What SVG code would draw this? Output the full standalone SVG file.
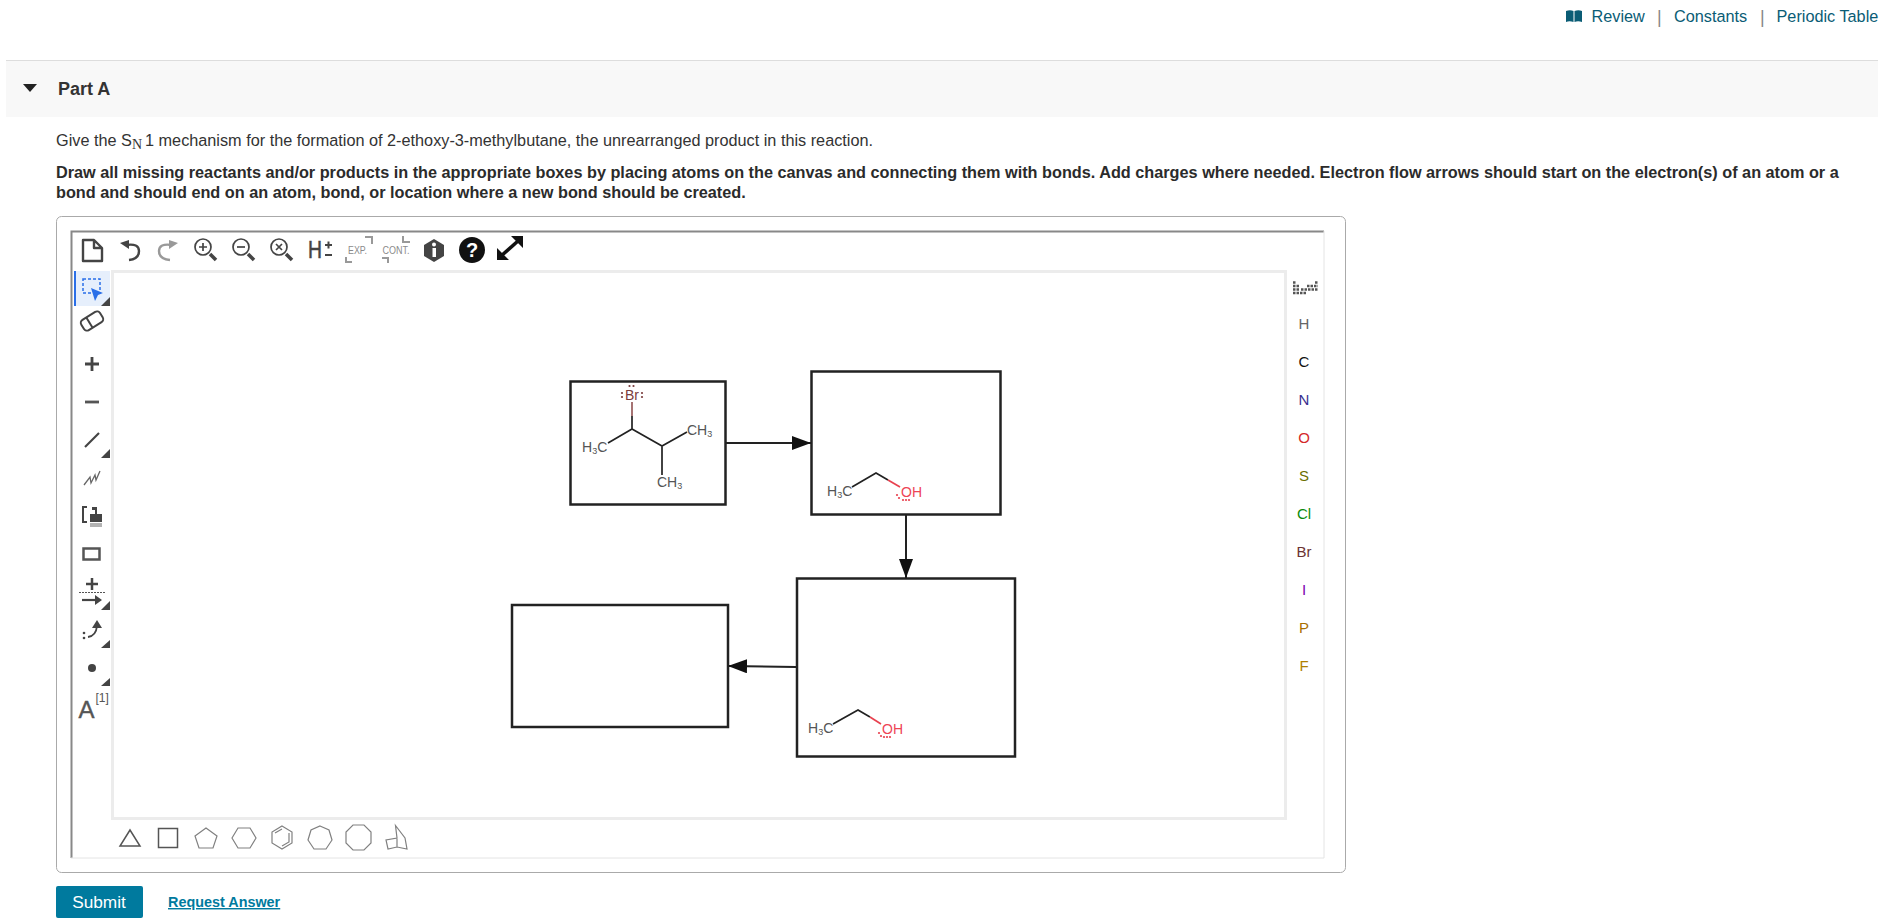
<svg xmlns="http://www.w3.org/2000/svg" width="1883" height="918" viewBox="0 0 1883 918">
<style>
text{font-family:"Liberation Sans",Arial,sans-serif}
.link{font-size:16.25px;fill:#0a5c75}
.sep{font-size:18px;fill:#888}
.body{font-size:16.25px;fill:#333}
.bold{font-size:16.25px;font-weight:700;fill:#2b2b2b}
.box{fill:#fff;stroke:#222;stroke-width:2.5}
.conn{fill:none;stroke:#222;stroke-width:2}
.bond{fill:none;stroke:#222;stroke-width:1.7}
.red{fill:none;stroke:#e8414f;stroke-width:1.7}
.atom{font-size:14px;fill:#555}
.atom tspan{font-size:9px}
.oh{font-size:14px;fill:#ee4455}
.ic{fill:none;stroke:#444;stroke-width:2}
.ic-thin{fill:none;stroke:#444;stroke-width:1.7}
.corner{fill:#444}
.ring{fill:none;stroke:#808080;stroke-width:1.2}
.el{font-size:15px;text-anchor:middle}
.tiny{font-size:10px;fill:#8a8a8a}
.brk{fill:none;stroke:#999;stroke-width:2}
</style>
<defs>
<marker id="ah" markerUnits="userSpaceOnUse" markerWidth="20" markerHeight="14" refX="19" refY="7" orient="auto"><path d="M0 0L19 7L0 14Z" fill="#111"/></marker>
</defs>
<rect width="1883" height="918" fill="#fff"/>

<g id="header-links">
<path d="M1566 11q4-1.500 7.500 0v11q-4-1.500-7.500 0ZM1574.500 11q4-1.500 7.500 0v11q-4-1.500-7.500 0Z" fill="#0a5c75"/>
<text class="link" x="1591.500" y="22">Review</text>
<text class="sep" x="1657" y="23">|</text>
<text class="link" x="1674" y="22">Constants</text>
<text class="sep" x="1760" y="23">|</text>
<text class="link" x="1776.500" y="22">Periodic Table</text>
</g>

<g id="part-header">
<rect x="6" y="61" width="1872" height="56" fill="#f8f8f8"/>
<path d="M6 60.500H1878" stroke="#ddd" stroke-width="1"/>
<path d="M23 84H37L30 92Z" fill="#222"/>
<text x="58" y="95" font-size="18" font-weight="700" fill="#333">Part A</text>
</g>

<g id="question">
<text class="body" x="56" y="146">Give the S<tspan font-family="Liberation Serif" font-size="14" dy="3">N</tspan><tspan dy="-3" dx="3">1 mechanism for the formation of 2-ethoxy-3-methylbutane, the unrearranged product in this reaction.</tspan></text>
<text class="bold" x="56" y="178">Draw all missing reactants and/or products in the appropriate boxes by placing atoms on the canvas and connecting them with bonds. Add charges where needed. Electron flow arrows should start on the electron(s) of an atom or a</text>
<text class="bold" x="56" y="198">bond and should end on an atom, bond, or location where a new bond should be created.</text>
</g>

<g id="editor-frame">
<rect x="56.500" y="216.500" width="1289" height="656" rx="5" fill="#fff" stroke="#aaa" stroke-width="1"/>
<path d="M71.500 858V231.500H1324" fill="none" stroke="#888" stroke-width="2"/>
<path d="M1324 231V858H71" fill="none" stroke="#e4e4e4" stroke-width="1"/>
<rect x="112.500" y="271.500" width="1173" height="547" fill="#fff" stroke="#ececec" stroke-width="3"/>
</g>

<g id="top-toolbar">
<path d="M83 240H94L102 248V261H83ZM94 240V248H102" fill="none" stroke="#444" stroke-width="2.400" stroke-linejoin="round"/>
<path d="M126 245Q139 243 139 251Q139 259 129 260" fill="none" stroke="#444" stroke-width="2.400"/><path d="M120 243L129 240V249Z" fill="#444"/>
<path d="M172 245Q159 243 159 251Q159 259 170 260" fill="none" stroke="#999" stroke-width="2.400"/><path d="M178 243L169 240V249Z" fill="#999"/>
<g id="zoom-in"><circle class="ic-thin" cx="203" cy="247" r="8"/><path class="ic-thin" d="M199 247H207M203 243V251"/><path d="M210 254L216 260" stroke="#444" stroke-width="3.500"/></g>
<g id="zoom-out"><circle class="ic-thin" cx="241" cy="247" r="8"/><path class="ic-thin" d="M237 247H245"/><path d="M248 254L254 260" stroke="#444" stroke-width="3.500"/></g>
<g id="zoom-reset"><circle class="ic-thin" cx="279" cy="247" r="8"/><path class="ic-thin" d="M276 244L282 250M282 244L276 250"/><path d="M286 254L292 260" stroke="#444" stroke-width="3.500"/></g>
<g id="h-toggle"><text x="308" y="258" font-size="23" fill="#444" stroke="#444" stroke-width=".5" textLength="14" lengthAdjust="spacingAndGlyphs">H</text><path d="M325 245H332M328.500 241.500V248.500M325 255H332" fill="none" stroke="#444" stroke-width="2"/></g>
<g id="exp"><text class="tiny" x="348" y="254" textLength="19" lengthAdjust="spacingAndGlyphs">EXP.</text><path class="brk" d="M365 237H372V244M346 257V262H352"/></g>
<g id="cont"><text class="tiny" x="382.500" y="254" textLength="27" lengthAdjust="spacingAndGlyphs">CONT.</text><path class="brk" d="M403 236V242H410M382 258H388V263"/></g>
<g id="info"><path d="M434 239L444 245V256L434 262L424 256V245Z" fill="#444"/><rect x="432.500" y="248" width="3.500" height="9" fill="#fff"/><circle cx="434" cy="244.500" r="2" fill="#fff"/></g>
<g id="help"><circle cx="472" cy="250" r="13" fill="#111"/><text x="472" y="257" font-size="20" font-weight="700" fill="#fff" text-anchor="middle">?</text></g>
<g id="expand"><path d="M501 256L518 241" stroke="#111" stroke-width="3.500"/><path d="M497 260V248L509 260ZM523 236V248L511 236Z" fill="#111"/></g>
</g>

<g id="left-toolbar">
<g id="select"><rect x="74" y="271" width="36" height="35" fill="#e6effc"/><rect x="74" y="271" width="2" height="35" fill="#2a6fe8"/><rect x="83" y="279" width="17" height="14" fill="none" stroke="#2a6fe8" stroke-width="1.500" stroke-dasharray="3 2"/><path d="M91 288L103 293L98 295L95 301Z" fill="#2a6fe8"/><path class="corner" d="M110 297V306H101Z"/></g>
<g id="eraser" transform="rotate(-32 92 321)"><rect class="ic" x="81" y="315" width="22" height="12" rx="3.500"/><path class="ic" d="M89 315V327"/></g>
<path id="plus" d="M85 364H99M92 357V371" stroke="#444" stroke-width="2.800"/>
<path id="minus" d="M85 402H99" stroke="#555" stroke-width="2.800"/>
<g id="bond"><path d="M85 447L99 433" stroke="#444" stroke-width="2.200"/><path class="corner" d="M110 449V458H101Z"/></g>
<path id="chain" d="M84 485L90 477L91 483L95 475L96 480L100 471" fill="none" stroke="#666" stroke-width="1.300"/>
<g id="bracket"><path class="ic" d="M87 507H83V522H87"/><path d="M92 507H97V514H102V522H90V514H95V510H92Z" fill="#444"/><path d="M90 524H102M90 526H102" stroke="#666" stroke-width="1"/></g>
<rect id="rect-tool" x="83.500" y="548.500" width="16" height="11" fill="none" stroke="#555" stroke-width="2.500"/>
<g id="reaction"><path d="M86 584H98M92 578V590" stroke="#444" stroke-width="2.500"/><path d="M79 592.500H105" stroke="#555" stroke-width="1" stroke-dasharray="2 1"/><path d="M82 600H96" stroke="#444" stroke-width="2.200"/><path d="M95 595L102 600L95 605Z" fill="#444"/><path class="corner" d="M110 601V610H101Z"/></g>
<g id="curved"><circle cx="84" cy="633" r="1.300" fill="#444"/><circle cx="84" cy="638" r="1.300" fill="#444"/><path d="M88 637Q96 636 97 626" fill="none" stroke="#444" stroke-width="1.800"/><path d="M97 620L102 628H92Z" fill="#444"/><path class="corner" d="M110 640V648H101Z"/></g>
<g id="dot-tool"><circle cx="92" cy="668" r="4" fill="#444"/><path class="corner" d="M110 678V686H101Z"/></g>
<g id="label-tool"><text x="78.500" y="718" font-size="24" fill="#555" stroke="#555" stroke-width=".4">A</text><text x="95.500" y="702" font-size="12" fill="#555">[1]</text></g>
</g>

<g id="bottom-toolbar">
<path d="M130 830L120 846H140Z" fill="none" stroke="#555" stroke-width="1.500"/>
<rect x="158.500" y="828.500" width="19" height="19" fill="none" stroke="#555" stroke-width="1.500"/>
<path class="ring" d="M206 828L217 836L213 848H199L195 836Z"/>
<path class="ring" d="M232 838L238 828H250L256 838L250 848H238Z"/>
<path class="ring" d="M282 826L292 832V843L282 849L272 843V832ZM289 833V842L282 846M275 833L282 829" stroke-width="1.500"/>
<path class="ring" d="M320 826L329 830L332 840L326 849H314L308 840L311 830Z"/>
<path class="ring" d="M353 825H364L371 832V843L364 850H353L346 843V832Z"/>
<path class="ring" d="M395.500 825.500L405 838L407 849L397 847L388 849L386 840L397 838ZM395.500 825.500L397 838V847"/>
</g>

<g id="right-toolbar">
<path id="periodic" d="M1293 282.500H1296M1315 282.500H1318M1293 286H1299M1307 286H1318M1293 289.500H1299M1301 289.500H1318M1293 293H1307" fill="none" stroke="#555" stroke-width="2.600" stroke-dasharray="2.500 1"/>
<text class="el" x="1304" y="329" fill="#666">H</text>
<text class="el" x="1304" y="367" fill="#111">C</text>
<text class="el" x="1304" y="405" fill="#3a2f8f">N</text>
<text class="el" x="1304" y="443" fill="#d42a2a">O</text>
<text class="el" x="1304" y="481" fill="#6b7000">S</text>
<text class="el" x="1304" y="519" fill="#0a8a0a">Cl</text>
<text class="el" x="1304" y="557" fill="#6b3333">Br</text>
<text class="el" x="1304" y="595" fill="#8000b0">I</text>
<text class="el" x="1304" y="633" fill="#a87000">P</text>
<text class="el" x="1304" y="671" fill="#b08000">F</text>
</g>

<g id="box-reactant">
<rect class="box" x="570.500" y="381.500" width="155" height="123"/>
<path d="M632 402V416" stroke="#844" stroke-width="1.500"/><path class="bond" d="M632 416V429M608 443L632 429L662 446L687 432M662 446V475"/>
<text x="625" y="400" font-size="14" fill="#7a3b3b">Br</text>
<g fill="#7a3b3b"><circle cx="629.500" cy="386" r="1.100"/><circle cx="633.500" cy="386" r="1.100"/><circle cx="622" cy="393" r="1.100"/><circle cx="622" cy="397" r="1.100"/><circle cx="642" cy="393" r="1.100"/><circle cx="642" cy="397" r="1.100"/></g>
<text class="atom" x="582" y="452">H<tspan dy="2">3</tspan><tspan dy="-2" style="font-size:14px">C</tspan></text>
<text class="atom" x="687" y="435">CH<tspan dy="2">3</tspan></text>
<text class="atom" x="657" y="487">CH<tspan dy="2">3</tspan></text>
</g>

<g id="box-nucleophile">
<rect class="box" x="811.500" y="371.500" width="189" height="143"/>
<path class="bond" d="M852 487L876 473L888 480"/><path class="red" d="M888 480L900 487"/>
<text class="atom" x="827" y="496">H<tspan dy="2">3</tspan><tspan dy="-2" style="font-size:14px">C</tspan></text>
<text class="oh" x="901" y="497">OH</text>
<g fill="#e8414f"><circle cx="897" cy="495" r="1.100"/><circle cx="899" cy="498" r="1.100"/><circle cx="903" cy="500" r="1.100"/><circle cx="906" cy="500" r="1.100"/><circle cx="909" cy="500" r="1.100"/></g>
</g>

<g id="box-intermediate">
<rect class="box" x="797" y="578.500" width="218" height="178"/>
<path class="bond" d="M833 724L858 710L870 717"/><path class="red" d="M870 717L881 724"/>
<text class="atom" x="808" y="733">H<tspan dy="2">3</tspan><tspan dy="-2" style="font-size:14px">C</tspan></text>
<text class="oh" x="882" y="734">OH</text>
<g fill="#e8414f"><circle cx="879" cy="733" r="1.100"/><circle cx="881" cy="736" r="1.100"/><circle cx="884" cy="737" r="1.100"/><circle cx="887" cy="737" r="1.100"/><circle cx="890" cy="737" r="1.100"/></g>
</g>

<g id="box-product">
<rect class="box" x="512" y="605" width="216" height="122"/>
</g>

<g id="connectors">
<path class="conn" d="M726 443H811" marker-end="url(#ah)"/>
<path class="conn" d="M906 515V578" marker-end="url(#ah)"/>
<path class="conn" d="M796 667L728 666" marker-end="url(#ah)"/>
</g>

<g id="actions">
<rect x="56" y="886" width="87" height="32" rx="2" fill="#007a9e"/>
<text x="99" y="908" font-size="17.250" fill="#fff" text-anchor="middle">Submit</text>
<text x="168" y="907" font-size="14.400" font-weight="700" fill="#007a9e" text-decoration="underline">Request Answer</text>
</g>
</svg>
